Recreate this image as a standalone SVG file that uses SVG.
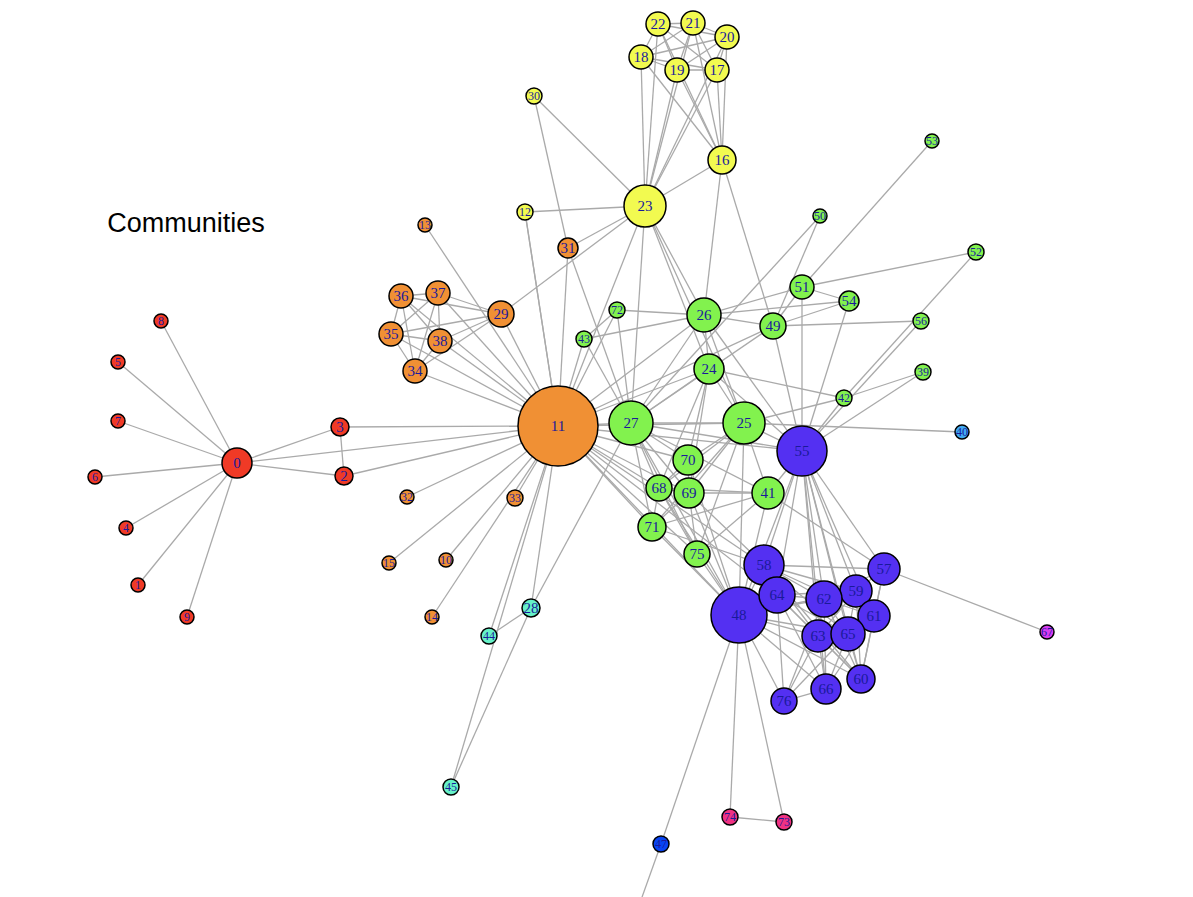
<svg xmlns="http://www.w3.org/2000/svg" width="1193" height="897" viewBox="0 0 1193 897">
<style>
circle{stroke:#000;stroke-width:1.5}
text{font-family:"Liberation Serif",serif;font-size:15px;fill:#1a1a9a;text-anchor:middle;dominant-baseline:central}
.s text{font-size:12px}
#edges line{stroke:#aaa;stroke-width:1.3}
.r{fill:#f03a26}.o{fill:#f09034}.y{fill:#f2fa50}.g{fill:#82f24e}.p{fill:#5430f2}.t{fill:#66f2c8}.lb{fill:#40aaf2}.b{fill:#0844f2}.pk{fill:#f03282}.m{fill:#d83cf2}
</style>
<rect width="1193" height="897" fill="#fff"/>
<text x="186" y="223" style="font-family:'Liberation Sans',sans-serif;font-size:27px;fill:#000">Communities</text>
<g id="edges">
<line x1="237" y1="463" x2="138" y2="585"/><line x1="237" y1="463" x2="126" y2="528"/><line x1="237" y1="463" x2="118" y2="362"/><line x1="237" y1="463" x2="95" y2="477"/><line x1="237" y1="463" x2="118" y2="421"/><line x1="237" y1="463" x2="161" y2="321"/><line x1="237" y1="463" x2="187" y2="617"/><line x1="237" y1="463" x2="344" y2="476"/><line x1="237" y1="463" x2="340" y2="427"/><line x1="237" y1="463" x2="558" y2="426"/>
<line x1="344" y1="476" x2="340" y2="427"/><line x1="344" y1="476" x2="558" y2="426"/><line x1="340" y1="427" x2="558" y2="426"/>
<line x1="558" y1="426" x2="446" y2="560"/><line x1="558" y1="426" x2="525" y2="212"/><line x1="558" y1="426" x2="425" y2="225"/><line x1="558" y1="426" x2="432" y2="617"/><line x1="558" y1="426" x2="389" y2="563"/><line x1="558" y1="426" x2="645" y2="206"/><line x1="558" y1="426" x2="709" y2="369"/><line x1="558" y1="426" x2="744" y2="423"/><line x1="558" y1="426" x2="704" y2="315"/><line x1="558" y1="426" x2="631" y2="423"/><line x1="558" y1="426" x2="531" y2="608"/><line x1="558" y1="426" x2="501" y2="314"/><line x1="558" y1="426" x2="568" y2="248"/><line x1="558" y1="426" x2="407" y2="497"/><line x1="558" y1="426" x2="515" y2="498"/><line x1="558" y1="426" x2="415" y2="371"/><line x1="558" y1="426" x2="391" y2="334"/><line x1="558" y1="426" x2="401" y2="296"/><line x1="558" y1="426" x2="438" y2="293"/><line x1="558" y1="426" x2="440" y2="341"/><line x1="558" y1="426" x2="584" y2="339"/><line x1="558" y1="426" x2="489" y2="636"/><line x1="558" y1="426" x2="451" y2="787"/><line x1="558" y1="426" x2="739" y2="615"/><line x1="558" y1="426" x2="802" y2="451"/><line x1="558" y1="426" x2="764" y2="565"/><line x1="558" y1="426" x2="659" y2="488"/><line x1="558" y1="426" x2="689" y2="493"/><line x1="558" y1="426" x2="688" y2="460"/><line x1="558" y1="426" x2="652" y2="527"/><line x1="558" y1="426" x2="617" y2="310"/><line x1="558" y1="426" x2="697" y2="554"/><line x1="558" y1="426" x2="777" y2="595"/><line x1="558" y1="426" x2="773" y2="326"/>
<line x1="722" y1="160" x2="717" y2="70"/><line x1="722" y1="160" x2="641" y2="57"/><line x1="722" y1="160" x2="677" y2="70"/><line x1="722" y1="160" x2="727" y2="37"/><line x1="722" y1="160" x2="693" y2="23"/><line x1="722" y1="160" x2="658" y2="24"/>
<line x1="717" y1="70" x2="641" y2="57"/><line x1="717" y1="70" x2="677" y2="70"/><line x1="717" y1="70" x2="727" y2="37"/><line x1="717" y1="70" x2="693" y2="23"/><line x1="717" y1="70" x2="658" y2="24"/><line x1="641" y1="57" x2="677" y2="70"/><line x1="641" y1="57" x2="727" y2="37"/><line x1="641" y1="57" x2="693" y2="23"/><line x1="641" y1="57" x2="658" y2="24"/><line x1="677" y1="70" x2="727" y2="37"/><line x1="677" y1="70" x2="693" y2="23"/><line x1="677" y1="70" x2="658" y2="24"/><line x1="727" y1="37" x2="693" y2="23"/><line x1="727" y1="37" x2="658" y2="24"/><line x1="693" y1="23" x2="658" y2="24"/>
<line x1="645" y1="206" x2="722" y2="160"/><line x1="645" y1="206" x2="717" y2="70"/><line x1="645" y1="206" x2="641" y2="57"/><line x1="645" y1="206" x2="677" y2="70"/><line x1="645" y1="206" x2="727" y2="37"/><line x1="645" y1="206" x2="693" y2="23"/><line x1="645" y1="206" x2="658" y2="24"/><line x1="645" y1="206" x2="525" y2="212"/><line x1="645" y1="206" x2="534" y2="96"/><line x1="645" y1="206" x2="568" y2="248"/><line x1="645" y1="206" x2="501" y2="314"/><line x1="645" y1="206" x2="704" y2="315"/><line x1="645" y1="206" x2="631" y2="423"/><line x1="645" y1="206" x2="709" y2="369"/><line x1="645" y1="206" x2="744" y2="423"/>
<line x1="534" y1="96" x2="568" y2="248"/><line x1="568" y1="248" x2="631" y2="423"/>
<line x1="722" y1="160" x2="704" y2="315"/><line x1="722" y1="160" x2="773" y2="326"/>
<line x1="415" y1="371" x2="391" y2="334"/><line x1="415" y1="371" x2="401" y2="296"/><line x1="415" y1="371" x2="438" y2="293"/><line x1="415" y1="371" x2="440" y2="341"/><line x1="391" y1="334" x2="401" y2="296"/><line x1="391" y1="334" x2="438" y2="293"/><line x1="391" y1="334" x2="440" y2="341"/><line x1="401" y1="296" x2="438" y2="293"/><line x1="401" y1="296" x2="440" y2="341"/><line x1="438" y1="293" x2="440" y2="341"/>
<line x1="501" y1="314" x2="438" y2="293"/><line x1="501" y1="314" x2="401" y2="296"/><line x1="501" y1="314" x2="440" y2="341"/><line x1="501" y1="314" x2="391" y2="334"/><line x1="501" y1="314" x2="415" y2="371"/>
<line x1="704" y1="315" x2="617" y2="310"/><line x1="704" y1="315" x2="584" y2="339"/><line x1="704" y1="315" x2="802" y2="287"/><line x1="704" y1="315" x2="849" y2="301"/><line x1="704" y1="315" x2="773" y2="326"/><line x1="704" y1="315" x2="709" y2="369"/><line x1="704" y1="315" x2="744" y2="423"/><line x1="704" y1="315" x2="631" y2="423"/><line x1="704" y1="315" x2="802" y2="451"/>
<line x1="773" y1="326" x2="802" y2="287"/><line x1="773" y1="326" x2="820" y2="216"/><line x1="773" y1="326" x2="849" y2="301"/><line x1="773" y1="326" x2="921" y2="321"/><line x1="773" y1="326" x2="802" y2="451"/><line x1="773" y1="326" x2="631" y2="423"/>
<line x1="802" y1="287" x2="932" y2="141"/><line x1="802" y1="287" x2="976" y2="252"/><line x1="802" y1="287" x2="849" y2="301"/><line x1="802" y1="287" x2="802" y2="451"/><line x1="820" y1="216" x2="631" y2="423"/><line x1="849" y1="301" x2="802" y2="451"/>
<line x1="976" y1="252" x2="844" y2="398"/><line x1="921" y1="321" x2="802" y2="451"/><line x1="923" y1="372" x2="844" y2="398"/><line x1="923" y1="372" x2="802" y2="451"/><line x1="844" y1="398" x2="802" y2="451"/><line x1="844" y1="398" x2="744" y2="423"/><line x1="844" y1="398" x2="709" y2="369"/><line x1="962" y1="432" x2="744" y2="423"/>
<line x1="709" y1="369" x2="744" y2="423"/><line x1="709" y1="369" x2="631" y2="423"/><line x1="709" y1="369" x2="688" y2="460"/><line x1="709" y1="369" x2="689" y2="493"/><line x1="709" y1="369" x2="659" y2="488"/><line x1="709" y1="369" x2="802" y2="451"/>
<line x1="744" y1="423" x2="631" y2="423"/><line x1="744" y1="423" x2="802" y2="451"/><line x1="744" y1="423" x2="768" y2="493"/><line x1="744" y1="423" x2="688" y2="460"/><line x1="744" y1="423" x2="689" y2="493"/><line x1="744" y1="423" x2="659" y2="488"/><line x1="744" y1="423" x2="739" y2="615"/><line x1="744" y1="423" x2="697" y2="554"/><line x1="744" y1="423" x2="652" y2="527"/>
<line x1="631" y1="423" x2="659" y2="488"/><line x1="631" y1="423" x2="689" y2="493"/><line x1="631" y1="423" x2="688" y2="460"/><line x1="631" y1="423" x2="652" y2="527"/><line x1="631" y1="423" x2="697" y2="554"/><line x1="631" y1="423" x2="739" y2="615"/><line x1="631" y1="423" x2="768" y2="493"/><line x1="631" y1="423" x2="531" y2="608"/><line x1="631" y1="423" x2="802" y2="451"/><line x1="631" y1="423" x2="617" y2="310"/><line x1="631" y1="423" x2="584" y2="339"/>
<line x1="768" y1="493" x2="802" y2="451"/><line x1="768" y1="493" x2="689" y2="493"/><line x1="768" y1="493" x2="659" y2="488"/><line x1="768" y1="493" x2="652" y2="527"/><line x1="768" y1="493" x2="739" y2="615"/><line x1="768" y1="493" x2="697" y2="554"/><line x1="768" y1="493" x2="884" y2="569"/>
<line x1="659" y1="488" x2="689" y2="493"/><line x1="659" y1="488" x2="688" y2="460"/><line x1="659" y1="488" x2="652" y2="527"/><line x1="659" y1="488" x2="697" y2="554"/><line x1="659" y1="488" x2="739" y2="615"/><line x1="689" y1="493" x2="688" y2="460"/><line x1="689" y1="493" x2="652" y2="527"/><line x1="689" y1="493" x2="697" y2="554"/><line x1="689" y1="493" x2="739" y2="615"/><line x1="688" y1="460" x2="739" y2="615"/><line x1="652" y1="527" x2="739" y2="615"/><line x1="697" y1="554" x2="739" y2="615"/><line x1="652" y1="527" x2="764" y2="565"/><line x1="689" y1="493" x2="764" y2="565"/>
<line x1="802" y1="451" x2="739" y2="615"/><line x1="802" y1="451" x2="884" y2="569"/><line x1="802" y1="451" x2="764" y2="565"/><line x1="802" y1="451" x2="856" y2="591"/><line x1="802" y1="451" x2="874" y2="616"/><line x1="802" y1="451" x2="824" y2="599"/><line x1="802" y1="451" x2="818" y2="636"/><line x1="802" y1="451" x2="777" y2="595"/><line x1="802" y1="451" x2="848" y2="634"/><line x1="802" y1="451" x2="861" y2="679"/><line x1="802" y1="451" x2="826" y2="689"/>
<line x1="739" y1="615" x2="764" y2="565"/><line x1="739" y1="615" x2="777" y2="595"/><line x1="739" y1="615" x2="824" y2="599"/><line x1="739" y1="615" x2="818" y2="636"/><line x1="739" y1="615" x2="848" y2="634"/><line x1="739" y1="615" x2="826" y2="689"/><line x1="739" y1="615" x2="861" y2="679"/><line x1="739" y1="615" x2="784" y2="701"/><line x1="739" y1="615" x2="856" y2="591"/>
<line x1="764" y1="565" x2="884" y2="569"/><line x1="764" y1="565" x2="824" y2="599"/><line x1="764" y1="565" x2="856" y2="591"/><line x1="764" y1="565" x2="874" y2="616"/><line x1="764" y1="565" x2="818" y2="636"/><line x1="764" y1="565" x2="848" y2="634"/><line x1="764" y1="565" x2="861" y2="679"/>
<line x1="777" y1="595" x2="824" y2="599"/><line x1="777" y1="595" x2="856" y2="591"/><line x1="777" y1="595" x2="818" y2="636"/><line x1="777" y1="595" x2="848" y2="634"/><line x1="777" y1="595" x2="826" y2="689"/><line x1="777" y1="595" x2="861" y2="679"/><line x1="777" y1="595" x2="784" y2="701"/>
<line x1="824" y1="599" x2="856" y2="591"/><line x1="824" y1="599" x2="874" y2="616"/><line x1="824" y1="599" x2="818" y2="636"/><line x1="824" y1="599" x2="848" y2="634"/><line x1="824" y1="599" x2="826" y2="689"/><line x1="824" y1="599" x2="861" y2="679"/><line x1="824" y1="599" x2="884" y2="569"/><line x1="824" y1="599" x2="784" y2="701"/>
<line x1="856" y1="591" x2="884" y2="569"/><line x1="856" y1="591" x2="874" y2="616"/><line x1="856" y1="591" x2="848" y2="634"/><line x1="856" y1="591" x2="818" y2="636"/><line x1="856" y1="591" x2="861" y2="679"/><line x1="874" y1="616" x2="884" y2="569"/><line x1="874" y1="616" x2="848" y2="634"/><line x1="874" y1="616" x2="861" y2="679"/><line x1="874" y1="616" x2="826" y2="689"/>
<line x1="818" y1="636" x2="848" y2="634"/><line x1="818" y1="636" x2="826" y2="689"/><line x1="818" y1="636" x2="861" y2="679"/><line x1="818" y1="636" x2="784" y2="701"/><line x1="848" y1="634" x2="826" y2="689"/><line x1="848" y1="634" x2="861" y2="679"/><line x1="848" y1="634" x2="784" y2="701"/><line x1="826" y1="689" x2="784" y2="701"/><line x1="884" y1="569" x2="861" y2="679"/>
<line x1="884" y1="569" x2="1047" y2="632"/>
<line x1="739" y1="615" x2="661" y2="844"/><line x1="661" y1="844" x2="641" y2="900"/><line x1="739" y1="615" x2="730" y2="817"/><line x1="739" y1="615" x2="784" y2="822"/><line x1="730" y1="817" x2="784" y2="822"/>
<line x1="531" y1="608" x2="489" y2="636"/><line x1="531" y1="608" x2="451" y2="787"/>
<line x1="525" y1="212" x2="558" y2="426"/><line x1="584" y1="339" x2="617" y2="310"/>
</g>
<g id="n0"><circle cx="237" cy="463" r="15" class="r"/><text x="237" y="463">0</text></g>
<g id="n1" class="s"><circle cx="138" cy="585" r="7" class="r"/><text x="138" y="585">1</text></g>
<g id="n2"><circle cx="344" cy="476" r="9" class="r"/><text x="344" y="476">2</text></g>
<g id="n3"><circle cx="340" cy="427" r="9" class="r"/><text x="340" y="427">3</text></g>
<g id="n4" class="s"><circle cx="126" cy="528" r="7" class="r"/><text x="126" y="528">4</text></g>
<g id="n5" class="s"><circle cx="118" cy="362" r="7" class="r"/><text x="118" y="362">5</text></g>
<g id="n6" class="s"><circle cx="95" cy="477" r="7" class="r"/><text x="95" y="477">6</text></g>
<g id="n7" class="s"><circle cx="118" cy="421" r="7" class="r"/><text x="118" y="421">7</text></g>
<g id="n8" class="s"><circle cx="161" cy="321" r="7" class="r"/><text x="161" y="321">8</text></g>
<g id="n9" class="s"><circle cx="187" cy="617" r="7" class="r"/><text x="187" y="617">9</text></g>
<g id="n10" class="s"><circle cx="446" cy="560" r="7" class="o"/><text x="446" y="560">10</text></g>
<g id="n11"><circle cx="558" cy="426" r="40" class="o"/><text x="558" y="426">11</text></g>
<g id="n12" class="s"><circle cx="525" cy="212" r="8" class="y"/><text x="525" y="212">12</text></g>
<g id="n13" class="s"><circle cx="425" cy="225" r="7" class="o"/><text x="425" y="225">13</text></g>
<g id="n14" class="s"><circle cx="432" cy="617" r="7" class="o"/><text x="432" y="617">14</text></g>
<g id="n15" class="s"><circle cx="389" cy="563" r="7" class="o"/><text x="389" y="563">15</text></g>
<g id="n16"><circle cx="722" cy="160" r="14" class="y"/><text x="722" y="160">16</text></g>
<g id="n17"><circle cx="717" cy="70" r="12" class="y"/><text x="717" y="70">17</text></g>
<g id="n18"><circle cx="641" cy="57" r="12" class="y"/><text x="641" y="57">18</text></g>
<g id="n19"><circle cx="677" cy="70" r="12" class="y"/><text x="677" y="70">19</text></g>
<g id="n20"><circle cx="727" cy="37" r="12" class="y"/><text x="727" y="37">20</text></g>
<g id="n21"><circle cx="693" cy="23" r="12" class="y"/><text x="693" y="23">21</text></g>
<g id="n22"><circle cx="658" cy="24" r="12" class="y"/><text x="658" y="24">22</text></g>
<g id="n23"><circle cx="645" cy="206" r="21" class="y"/><text x="645" y="206">23</text></g>
<g id="n24"><circle cx="709" cy="369" r="15" class="g"/><text x="709" y="369">24</text></g>
<g id="n25"><circle cx="744" cy="423" r="21" class="g"/><text x="744" y="423">25</text></g>
<g id="n26"><circle cx="704" cy="315" r="17" class="g"/><text x="704" y="315">26</text></g>
<g id="n27"><circle cx="631" cy="423" r="22" class="g"/><text x="631" y="423">27</text></g>
<g id="n28"><circle cx="531" cy="608" r="9" class="t"/><text x="531" y="608">28</text></g>
<g id="n29"><circle cx="501" cy="314" r="13" class="o"/><text x="501" y="314">29</text></g>
<g id="n30" class="s"><circle cx="534" cy="96" r="8" class="y"/><text x="534" y="96">30</text></g>
<g id="n31"><circle cx="568" cy="248" r="10" class="o"/><text x="568" y="248">31</text></g>
<g id="n32" class="s"><circle cx="407" cy="497" r="7" class="o"/><text x="407" y="497">32</text></g>
<g id="n33" class="s"><circle cx="515" cy="498" r="8" class="o"/><text x="515" y="498">33</text></g>
<g id="n34"><circle cx="415" cy="371" r="12" class="o"/><text x="415" y="371">34</text></g>
<g id="n35"><circle cx="391" cy="334" r="12" class="o"/><text x="391" y="334">35</text></g>
<g id="n36"><circle cx="401" cy="296" r="12" class="o"/><text x="401" y="296">36</text></g>
<g id="n37"><circle cx="438" cy="293" r="12" class="o"/><text x="438" y="293">37</text></g>
<g id="n38"><circle cx="440" cy="341" r="12" class="o"/><text x="440" y="341">38</text></g>
<g id="n39" class="s"><circle cx="923" cy="372" r="8" class="g"/><text x="923" y="372">39</text></g>
<g id="n40" class="s"><circle cx="962" cy="432" r="7" class="lb"/><text x="962" y="432">40</text></g>
<g id="n41"><circle cx="768" cy="493" r="16" class="g"/><text x="768" y="493">41</text></g>
<g id="n42" class="s"><circle cx="844" cy="398" r="8" class="g"/><text x="844" y="398">42</text></g>
<g id="n43" class="s"><circle cx="584" cy="339" r="8" class="g"/><text x="584" y="339">43</text></g>
<g id="n44" class="s"><circle cx="489" cy="636" r="8" class="t"/><text x="489" y="636">44</text></g>
<g id="n45" class="s"><circle cx="451" cy="787" r="8" class="t"/><text x="451" y="787">45</text></g>
<g id="n47" class="s"><circle cx="661" cy="844" r="8" class="b"/><text x="661" y="844">47</text></g>
<g id="n48"><circle cx="739" cy="615" r="28" class="p"/><text x="739" y="615">48</text></g>
<g id="n49"><circle cx="773" cy="326" r="13" class="g"/><text x="773" y="326">49</text></g>
<g id="n50" class="s"><circle cx="820" cy="216" r="7" class="g"/><text x="820" y="216">50</text></g>
<g id="n51"><circle cx="802" cy="287" r="12" class="g"/><text x="802" y="287">51</text></g>
<g id="n52" class="s"><circle cx="976" cy="252" r="8" class="g"/><text x="976" y="252">52</text></g>
<g id="n53" class="s"><circle cx="932" cy="141" r="7" class="g"/><text x="932" y="141">53</text></g>
<g id="n54"><circle cx="849" cy="301" r="10" class="g"/><text x="849" y="301">54</text></g>
<g id="n55"><circle cx="802" cy="451" r="25" class="p"/><text x="802" y="451">55</text></g>
<g id="n56" class="s"><circle cx="921" cy="321" r="8" class="g"/><text x="921" y="321">56</text></g>
<g id="n57"><circle cx="884" cy="569" r="16" class="p"/><text x="884" y="569">57</text></g>
<g id="n58"><circle cx="764" cy="565" r="20" class="p"/><text x="764" y="565">58</text></g>
<g id="n59"><circle cx="856" cy="591" r="16" class="p"/><text x="856" y="591">59</text></g>
<g id="n60"><circle cx="861" cy="679" r="14" class="p"/><text x="861" y="679">60</text></g>
<g id="n61"><circle cx="874" cy="616" r="16" class="p"/><text x="874" y="616">61</text></g>
<g id="n62"><circle cx="824" cy="599" r="18" class="p"/><text x="824" y="599">62</text></g>
<g id="n63"><circle cx="818" cy="636" r="16" class="p"/><text x="818" y="636">63</text></g>
<g id="n64"><circle cx="777" cy="595" r="18" class="p"/><text x="777" y="595">64</text></g>
<g id="n65"><circle cx="848" cy="634" r="17" class="p"/><text x="848" y="634">65</text></g>
<g id="n66"><circle cx="826" cy="689" r="15" class="p"/><text x="826" y="689">66</text></g>
<g id="n67" class="s"><circle cx="1047" cy="632" r="7" class="m"/><text x="1047" y="632">67</text></g>
<g id="n68"><circle cx="659" cy="488" r="13" class="g"/><text x="659" y="488">68</text></g>
<g id="n69"><circle cx="689" cy="493" r="15" class="g"/><text x="689" y="493">69</text></g>
<g id="n70"><circle cx="688" cy="460" r="15" class="g"/><text x="688" y="460">70</text></g>
<g id="n71"><circle cx="652" cy="527" r="14" class="g"/><text x="652" y="527">71</text></g>
<g id="n72" class="s"><circle cx="617" cy="310" r="8" class="g"/><text x="617" y="310">72</text></g>
<g id="n73" class="s"><circle cx="784" cy="822" r="8" class="pk"/><text x="784" y="822">73</text></g>
<g id="n74" class="s"><circle cx="730" cy="817" r="8" class="pk"/><text x="730" y="817">74</text></g>
<g id="n75"><circle cx="697" cy="554" r="13" class="g"/><text x="697" y="554">75</text></g>
<g id="n76"><circle cx="784" cy="701" r="13" class="p"/><text x="784" y="701">76</text></g>
</svg>
